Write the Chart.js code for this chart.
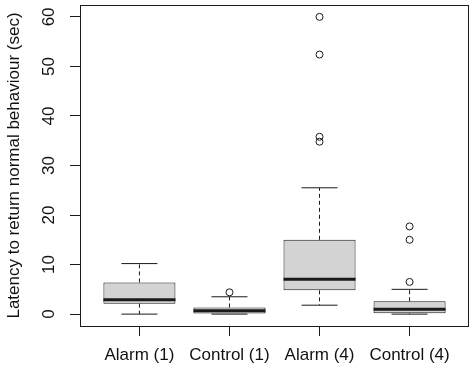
<!DOCTYPE html>
<html>
<head>
<meta charset="utf-8">
<script src="https://cdn.jsdelivr.net/npm/chart.js@4.4.1/dist/chart.umd.min.js"></script>
<style>
  body { margin: 0; background: #fff; }
  #wrap { width: 474px; height: 366px; }
</style>
</head>
<body>
<div id="wrap"><canvas id="boxChart"></canvas></div>
<script>
var groups = ['Alarm (1)', 'Control (1)', 'Alarm (4)', 'Control (4)'];
var positions = [1, 2, 3, 4];

var whiskerLow = [0, 0, 1.8, 0];
var lowerQuartile = [2.1, 0, 4.8, 0.15];
var medians = [2.9, 0.7, 7.05, 1.0];
var upperQuartile = [6.4, 1.35, 15.0, 2.6];
var whiskerHigh = [10.2, 3.5, 25.5, 5.0];
var outliers = [[], [4.4], [34.8, 35.8, 52.4, 60], [6.5, 15.0, 17.7]];

var yTicks = [0, 10, 20, 30, 40, 50, 60];

var ink = '#1a1a1a';
var fontFamily = "'Liberation Sans', Arial, sans-serif";

// build the pieces of each box from the arrays above
var boxData = [];
var medianData = [];
var stemData = [];
var capData = [];
var outlierData = [];
for (var i = 0; i < groups.length; i++) {
    var p = positions[i];
    boxData.push({ x: p, y: [lowerQuartile[i], upperQuartile[i]] });

    medianData.push({ x: p - 0.4, y: medians[i] });
    medianData.push({ x: p + 0.4, y: medians[i] });
    medianData.push({ x: p + 0.5, y: null });

    stemData.push({ x: p, y: upperQuartile[i] });
    stemData.push({ x: p, y: whiskerHigh[i] });
    stemData.push({ x: p + 0.01, y: null });
    stemData.push({ x: p, y: lowerQuartile[i] });
    stemData.push({ x: p, y: whiskerLow[i] });
    stemData.push({ x: p + 0.02, y: null });

    capData.push({ x: p - 0.2, y: whiskerHigh[i] });
    capData.push({ x: p + 0.2, y: whiskerHigh[i] });
    capData.push({ x: p + 0.3, y: null });
    capData.push({ x: p - 0.2, y: whiskerLow[i] });
    capData.push({ x: p + 0.2, y: whiskerLow[i] });
    capData.push({ x: p + 0.3, y: null });

    for (var j = 0; j < outliers[i].length; j++) {
        outlierData.push({ x: p, y: outliers[i][j] });
    }
}

// frame around the plotting region, like R's box()
var frame = {
    id: 'frame',
    afterDraw: function(chart) {
        var a = chart.chartArea;
        var ctx = chart.ctx;
        ctx.save();
        ctx.strokeStyle = ink;
        ctx.lineWidth = 1;
        ctx.strokeRect(a.left + 0.5, a.top + 0.5, a.right - a.left - 1, a.bottom - a.top);
        ctx.restore();
    }
};

function noEdgePadding(scale) {
    scale.paddingTop = 0;
    scale.paddingBottom = 0;
    scale.paddingLeft = 0;
    scale.paddingRight = 0;
}

var ctx = document.getElementById('boxChart');
var chart = new Chart(ctx, {
    type: 'bar',
    data: {
        datasets: [{
            type: 'bar',
            data: boxData,
            backgroundColor: '#d3d3d3',
            borderColor: ink,
            borderWidth: 1,
            borderSkipped: false,
            barPercentage: 1,
            categoryPercentage: 0.8,
            order: 5
        }, {
            type: 'line',
            data: stemData,
            borderColor: ink,
            borderWidth: 1,
            borderDash: [4, 3],
            pointRadius: 0,
            fill: false,
            spanGaps: false,
            order: 4
        }, {
            type: 'line',
            data: capData,
            borderColor: ink,
            borderWidth: 1,
            pointRadius: 0,
            fill: false,
            spanGaps: false,
            order: 3
        }, {
            type: 'line',
            data: medianData,
            borderColor: ink,
            borderWidth: 3,
            borderCapStyle: 'butt',
            pointRadius: 0,
            fill: false,
            spanGaps: false,
            order: 1
        }, {
            type: 'scatter',
            data: outlierData,
            pointStyle: 'circle',
            pointRadius: 3.5,
            pointBorderWidth: 1,
            pointBorderColor: ink,
            pointBackgroundColor: 'rgba(0,0,0,0)',
            order: 0
        }]
    },
    options: {
        responsive: true,
        maintainAspectRatio: false,
        animation: false,
        layout: { padding: { left: 0, top: 3, right: 3, bottom: 0 } },
        plugins: {
            legend: { display: false },
            tooltip: { enabled: false }
        },
        scales: {
            x: {
                type: 'linear',
                min: 0.34,
                max: 4.66,
                offset: false,
                afterBuildTicks: function(scale) {
                    scale.ticks = positions.map(function(v) { return { value: v }; });
                },
                afterFit: function(scale) {
                    scale.height = 40;
                    noEdgePadding(scale);
                },
                grid: {
                    drawOnChartArea: false,
                    offset: false,
                    tickLength: 10,
                    color: ink,
                    tickColor: ink,
                    tickWidth: 1
                },
                border: { display: false },
                ticks: {
                    padding: 9,
                    color: '#111',
                    font: { family: fontFamily, size: 17 },
                    maxRotation: 0,
                    autoSkip: false,
                    callback: function(value) {
                        return groups[positions.indexOf(value)];
                    }
                }
            },
            y: {
                type: 'linear',
                min: -2.4,
                max: 62.4,
                afterBuildTicks: function(scale) {
                    scale.ticks = yTicks.map(function(v) { return { value: v }; });
                },
                afterFit: function(scale) {
                    scale.width = 80;
                    noEdgePadding(scale);
                },
                grid: { drawOnChartArea: false, tickLength: 10, color: ink },
                border: { display: false },
                ticks: {
                    minRotation: 90,
                    maxRotation: 90,
                    crossAlign: 'center',
                    padding: 11.5,
                    color: '#111',
                    font: { family: fontFamily, size: 17 }
                },
                title: {
                    display: true,
                    text: 'Latency to return normal behaviour (sec)',
                    color: '#111',
                    padding: { top: 4, bottom: 0 },
                    font: { family: fontFamily, size: 17 }
                }
            }
        }
    },
    plugins: [frame]
});
</script>
</body>
</html>
